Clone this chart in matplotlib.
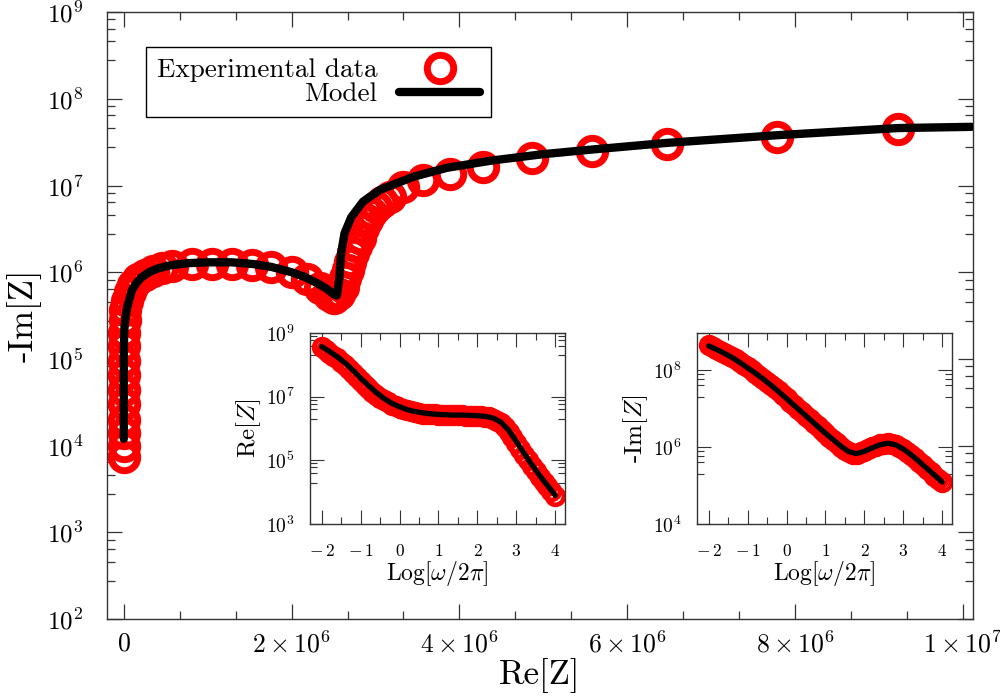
import numpy as np
import matplotlib
matplotlib.use("Agg")
import matplotlib.pyplot as plt
from matplotlib.ticker import MultipleLocator, LogLocator, FixedLocator, FuncFormatter, NullFormatter

plt.rcParams['font.family'] = ['cmr10', 'DejaVu Serif']
plt.rcParams['mathtext.fontset'] = 'cm'
plt.rcParams['axes.unicode_minus'] = False

# ---- main Nyquist plot data (Re[Z], -Im[Z]) ----
re_exp = np.array([0.0, 0.0, 0.0, 0.0, 0.0, 0.0, 0.0, 0.0, 0.0, 0.005, 0.01, 0.02,
                   0.04, 0.07, 0.11, 0.17, 0.25, 0.35, 0.46, 0.57, 0.81, 1.05, 1.29,
                   1.53, 1.76, 2.0, 2.18, 2.34, 2.45, 2.51, 2.57, 2.61, 2.64, 2.67,
                   2.70, 2.73, 2.77, 2.81, 2.85, 2.90, 2.95, 3.0, 3.08, 3.17, 3.33,
                   3.56, 3.89, 4.28, 4.87, 5.58, 6.47, 7.78, 9.23]) * 1e6
im_exp = np.array([7.4e3, 1.0e4, 1.4e4, 2.0e4, 3.0e4, 4.4e4, 6.5e4, 9.5e4, 1.4e5, 2.0e5,
                   2.8e5, 3.7e5, 4.7e5, 5.9e5, 7.1e5, 8.3e5, 9.4e5, 1.04e6, 1.12e6,
                   1.17e6, 1.23e6, 1.26e6, 1.26e6, 1.22e6, 1.15e6, 1.0e6, 8.4e5, 6.6e5,
                   5.5e5, 5.1e5, 5.6e5, 6.7e5, 8.5e5, 1.05e6, 1.3e6, 1.65e6, 2.0e6,
                   2.5e6, 3.2e6, 4.0e6, 4.8e6, 5.7e6, 6.5e6, 7.4e6, 9.5e6, 1.15e7,
                   1.35e7, 1.63e7, 2.08e7, 2.5e7, 3.0e7, 3.6e7, 4.5e7])

re_model = np.array([0.0, 0.0, 0.0, 0.005, 0.02, 0.04, 0.07, 0.1, 0.15, 0.21, 0.3, 0.4,
                     0.55, 0.76, 1.0, 1.29, 1.55, 1.76, 2.0, 2.16, 2.30, 2.40, 2.47,
                     2.51, 2.54, 2.57, 2.59, 2.63, 2.71, 2.85, 3.05, 3.45, 3.85, 4.4,
                     5.0, 5.58, 6.47, 7.78, 9.23, 10.1]) * 1e6
im_model = np.array([1.2e4, 3e4, 1e5, 2.1e5, 3.0e5, 3.9e5, 5.0e5, 6.3e5, 7.5e5, 8.7e5,
                     1.0e6, 1.1e6, 1.2e6, 1.27e6, 1.3e6, 1.3e6, 1.24e6, 1.15e6, 1.0e6,
                     8.8e5, 7.5e5, 6.6e5, 5.9e5, 5.5e5, 5.4e5, 8.7e5, 1.66e6, 2.8e6,
                     4.3e6, 6.5e6, 8.9e6, 1.26e7, 1.6e7, 1.95e7, 2.3e7, 2.6e7, 3.1e7,
                     3.8e7, 4.6e7, 4.75e7])

# ---- inset data: log10 of frequency, log10 of Re[Z] and -Im[Z] ----
logf_exp = [-2.0, -1.9, -1.8, -1.7, -1.6, -1.5, -1.4, -1.3, -1.2, -1.1,
            -1.0, -0.9, -0.8, -0.7, -0.6, -0.5, -0.4, -0.3, -0.2, -0.1,
            0.0, 0.1, 0.2, 0.3, 0.4, 0.5, 0.6, 0.7, 0.8, 0.9,
            1.0, 1.1, 1.2, 1.3, 1.4, 1.5, 1.6, 1.7, 1.8, 1.9,
            2.0, 2.1, 2.2, 2.3, 2.4, 2.5, 2.6, 2.7, 2.8, 2.9,
            3.0, 3.1, 3.2, 3.3, 3.4, 3.5, 3.6, 3.7, 3.8, 3.9, 4.0]
log_re_exp = [8.56, 8.47, 8.38, 8.29, 8.20, 8.10, 7.99, 7.87, 7.75, 7.62,
              7.50, 7.38, 7.27, 7.16, 7.06, 6.97, 6.89, 6.82, 6.75, 6.69,
              6.64, 6.60, 6.57, 6.54, 6.51, 6.49, 6.47, 6.46, 6.45, 6.44,
              6.43, 6.43, 6.42, 6.42, 6.41, 6.41, 6.41, 6.40, 6.40, 6.39,
              6.39, 6.38, 6.37, 6.35, 6.31, 6.25, 6.16, 6.04, 5.89, 5.72,
              5.54, 5.36, 5.18, 5.00, 4.82, 4.65, 4.49, 4.33, 4.18, 4.03, 3.89]
log_im_exp = [8.66, 8.61, 8.56, 8.51, 8.45, 8.40, 8.34, 8.28, 8.21, 8.14,
              8.08, 8.01, 7.93, 7.86, 7.78, 7.70, 7.62, 7.53, 7.45, 7.36,
              7.27, 7.18, 7.09, 7.00, 6.90, 6.81, 6.72, 6.63, 6.54, 6.45,
              6.36, 6.27, 6.19, 6.10, 6.01, 5.93, 5.87, 5.83, 5.83, 5.86,
              5.90, 5.94, 5.99, 6.03, 6.07, 6.09, 6.10, 6.09, 6.05, 6.00,
              5.94, 5.87, 5.79, 5.71, 5.62, 5.53, 5.44, 5.35, 5.26, 5.17, 5.09]

logf_model = [-2.0, -1.8, -1.6, -1.4, -1.2, -1.0, -0.8, -0.6, -0.4, -0.2,
              0.0, 0.2, 0.4, 0.6, 0.8, 1.0, 1.2, 1.4, 1.6, 1.8,
              2.0, 2.2, 2.4, 2.6, 2.8, 3.0, 3.2, 3.4, 3.6, 3.8, 4.0]
log_re_model = [8.57, 8.42, 8.25, 8.06, 7.83, 7.58, 7.35, 7.13, 6.94, 6.79,
                6.68, 6.59, 6.53, 6.49, 6.46, 6.44, 6.43, 6.42, 6.42, 6.41,
                6.40, 6.38, 6.33, 6.20, 5.95, 5.59, 5.22, 4.86, 4.52, 4.21, 3.90]
log_im_model = [8.63, 8.54, 8.44, 8.33, 8.20, 8.06, 7.92, 7.77, 7.61, 7.44,
                7.26, 7.08, 6.90, 6.72, 6.54, 6.36, 6.19, 6.02, 5.88, 5.83,
                5.89, 5.98, 6.06, 6.10, 6.06, 5.95, 5.80, 5.63, 5.45, 5.27, 5.09]

AX_COL = '#333333'


def pow_label(v, pos):
    return r'$10^{%d}$' % int(round(np.log10(v)))


def sci_label(v, pos):
    if abs(v) < 1:
        return r'$0$'
    e = int(np.floor(np.log10(abs(v)) + 1e-9))
    m = v / 10 ** e
    return r'$%d\times10^{%d}$' % (int(round(m)), e)


def style_ax(ax, maj, mino, width=0.9):
    for s in ax.spines.values():
        s.set_color(AX_COL)
        s.set_linewidth(1.0)
    ax.tick_params(which='both', direction='in', top=True, right=True,
                   color=AX_COL, width=width)
    ax.tick_params(which='major', length=maj)
    ax.tick_params(which='minor', length=mino)


fig = plt.figure(figsize=(10, 7), dpi=100)
ax = fig.add_axes([0.107, 0.1157, 0.866, 0.867])

h_exp, = ax.plot(re_exp, im_exp, 'o', ms=19, mfc='none', mec='#ff0000', mew=5,
                 label='Experimental data', zorder=2)
h_mod, = ax.plot(re_model, im_model, '-', color='black', lw=6,
                 solid_capstyle='round', label='Model', zorder=3)

ax.set_yscale('log')
ax.set_xlim(-0.2e6, 10.12e6)
ax.set_ylim(1e2, 1e9)
ax.xaxis.set_major_locator(MultipleLocator(2e6))
ax.xaxis.set_minor_locator(MultipleLocator(2e6 / 3))
ax.xaxis.set_major_formatter(FuncFormatter(sci_label))
ax.yaxis.set_major_locator(LogLocator(base=10, numticks=20))
ax.yaxis.set_minor_locator(LogLocator(base=10, subs=(2.77, 4.59, 6.42, 8.23), numticks=20))
ax.yaxis.set_major_formatter(FuncFormatter(pow_label))
ax.yaxis.set_minor_formatter(NullFormatter())
style_ax(ax, 11, 6)
ax.tick_params(axis='x', labelsize=18.5, pad=9)
ax.tick_params(axis='y', labelsize=18, pad=17)
ax.set_xlabel('Re[Z]', fontsize=25, labelpad=0)
ax.set_ylabel('-Im[Z]', fontsize=25, labelpad=4)

leg = ax.legend(handles=[h_exp, h_mod], loc='upper left', bbox_to_anchor=(0.045, 0.942),
                markerfirst=False, fancybox=False, edgecolor='black', framealpha=1,
                fontsize=19.5, handlelength=3.0, borderpad=0.4, labelspacing=0.0,
                handletextpad=0.8, borderaxespad=0)
leg.get_frame().set_linewidth(1.0)


def inset(rect, logy, logy_model, ylim, majors, ylabel):
    a = fig.add_axes(rect)
    a.plot(logf_exp, 10 ** np.array(logy), 'o', ms=12, mfc='none', mec='#ff0000',
           mew=3.4, zorder=2)
    a.plot(logf_model, 10 ** np.array(logy_model), '-', color='black', lw=3.8,
           solid_capstyle='round', zorder=3)
    a.set_yscale('log')
    a.set_xlim(-2.3, 4.25)
    a.set_ylim(*ylim)
    a.xaxis.set_major_locator(MultipleLocator(1))
    a.xaxis.set_minor_locator(MultipleLocator(0.5))
    a.xaxis.set_major_formatter(FuncFormatter(
        lambda v, p: (r'$-\,%d$' % abs(int(round(v)))) if v < -0.5 else (r'$%d$' % int(round(v)))))
    a.yaxis.set_major_locator(FixedLocator([10.0 ** k for k in majors]))
    a.yaxis.set_minor_locator(FixedLocator([m * 10.0 ** (k - 1) for k in majors for m in (2, 4, 6, 8)]))
    a.yaxis.set_major_formatter(FuncFormatter(pow_label))
    a.yaxis.set_minor_formatter(NullFormatter())
    style_ax(a, 10, 5, width=0.8)
    a.tick_params(axis='x', labelsize=12.5, pad=14)
    a.tick_params(axis='y', labelsize=14, pad=11)
    a.set_xlabel(r'$\mathrm{Log}[\omega/2\pi]$', fontsize=17, labelpad=0)
    a.set_ylabel(ylabel, fontsize=18, labelpad=2)
    return a


inset([0.310, 0.2514, 0.255, 0.273], log_re_exp, log_re_model, (1e3, 1e9),
      [3, 5, 7, 9], r'$\mathrm{Re}[Z]$')
inset([0.697, 0.2514, 0.255, 0.273], log_im_exp, log_im_model, (1e4, 9.3e8),
      [4, 6, 8], r'-$\mathrm{Im}[Z]$')

fig.savefig('out.png', dpi=100)
